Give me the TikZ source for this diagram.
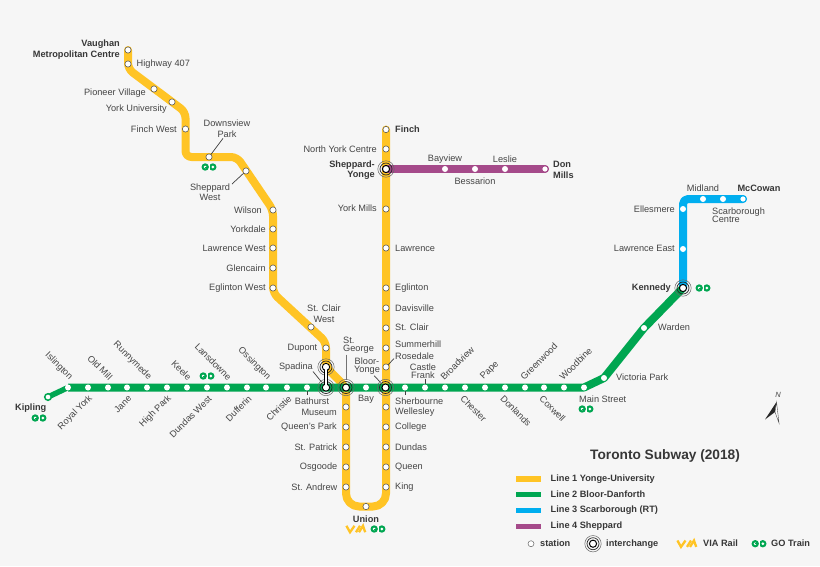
\documentclass[tikz,border=0pt]{standalone}
\usepackage{fontspec}
\setmainfont{Liberation Sans}
\usetikzlibrary{backgrounds}
\definecolor{ttcyellow}{HTML}{FFC425}
\definecolor{ttcgreen}{HTML}{00A651}
\definecolor{ttcblue}{HTML}{00AEEF}
\definecolor{ttcpurple}{HTML}{A54A8A}
\definecolor{ttctext}{HTML}{454545}
\definecolor{ttcpaper}{HTML}{F6F6F6}
\tikzset{
  lbl/.style={inner sep=0pt, text=ttctext, font=\fontsize{9.2}{10.5}\selectfont},
  lblb/.style={lbl, text=ttctext!80!black, font=\fontsize{9.2}{10.5}\selectfont\bfseries},
  tight/.style={font=\fontsize{9.2}{8.4}\selectfont},
  stny/.style={circle, draw=black!70, line width=0.5pt, fill=white, minimum size=6.2pt, inner sep=0pt},
  stnw/.style={circle, fill=white, minimum size=6pt, inner sep=0pt},
  subway/.style={line width=8pt, line cap=round, line join=round},
  leader/.style={line width=0.7pt, black!75},
  swatch/.style={minimum width=25pt, minimum height=5.6pt, inner sep=0pt},
}
\def\interchange(#1){
  \draw[black!60, line width=0.5pt] (#1) circle (8.2pt);
  \draw[black!85, line width=0.7pt] (#1) circle (6pt);
  \draw[black, fill=white, line width=1pt] (#1) circle (3.6pt);
}
\def\gologo(#1){
  \begin{scope}[shift={(#1)}]
    \fill[ttcgreen] (-3.8,0) circle (3.7pt);
    \fill[ttcgreen] (3.8,0) circle (3.7pt);
    \fill[white] (-3.8,0) circle (1.5pt);
    \fill[white] (3.8,0) circle (1.5pt);
    \fill[ttcgreen] (-3.8,-0.5) rectangle (-1,0.5);
    \fill[white] (-0.3,-3.8) rectangle (0.3,3.8);
  \end{scope}
}
\def\vialogo(#1){
  \begin{scope}[shift={(#1)}]
    \draw[ttcyellow, line width=2.3pt, line join=miter]
      (-9.6,-3.2) -- (-6,3.2) -- (-1.5,-3.2);
    \draw[ttcyellow, line width=2.3pt] (0,3.2) -- (4,-3.2);
    \draw[ttcyellow, line width=2.3pt, line join=miter]
      (3,3.2) -- (7,-3.2) -- (9.2,3.2);
  \end{scope}
}

\begin{document}
\begin{tikzpicture}[x=1pt, y=-1pt]
  \useasboundingbox (0,0) rectangle (820,566);

  %%%%% STATIONS %%%%%
  \foreach \n/\x/\y in {vaughan/128/50, hwy/128/64, pioneer/154/89, yorku/172/102, finchw/185.5/129,
      downsview/209/157, sheppw/246/171, wilson/273/210, yorkdale/273/229, lawrencew/273/248,
      glencairn/273/268, eglintonw/273/288, stclairw/311/327, dupont/326/348,
      museum/346/407, queenspark/346/427, stpatrick/346/447, osgoode/346/467, standrew/346/487,
      union/366/506.5, king/386/487, queen/386/467, dundas/386/447, college/386/427, wellesley/386/407,
      rosedale/386/367, summerhill/386/348, stclair/386/328, davisville/386/308, eglinton/386/288,
      lawrence/386/248, yorkmills/386/209, northyork/386/149, finch/386/129.5}
    \node[stny] (\n) at (\x,\y) {};
  \foreach \n/\x in {royalyork/88, oldmill/108, jane/127, runnymede/147, highpark/167, keele/187,
      dundasw/207, lansdowne/227, dufferin/247, ossington/266, christie/287, bathurst/307, bay/366,
      sherbourne/405, castle/425, broadview/445, chester/465, pape/485, donlands/505,
      greenwood/525, coxwell/544, woodbine/564, mainst/584}
    \node[stnw] (\n) at (\x,387.5) {};
  \foreach \n/\x/\y in {islington/68/387.5, vicpark/604/378, warden/644/328, kipling/48/397,
      ellesmere/683/209, lawrencee/683/249, midland/703/199, scarb/723/199, mccowan/743/199,
      bayview/445/169, bessarion/475/169, leslie/505/169, donmills/545/169}
    \node[stnw] (\n) at (\x,\y) {};
  \foreach \n/\x/\y in {spadinat/326/367, spadinab/326/387.5, stgeorge/346/387.5, bloor/385.5/387.5,
      sheppard/386/169, kennedy/683/288}
    \coordinate (\n) at (\x,\y);
  \coordinate (b1) at (128,69);
  \coordinate (b2) at (185.5,112);
  \coordinate (b3) at (185.5,157);
  \coordinate (b4) at (237,157);
  \coordinate (b5) at (273,210);
  \coordinate (b6) at (273,293);
  \coordinate (b7) at (326,342);
  \coordinate (b8) at (346,506.5);
  \coordinate (b9) at (386,506.5);
  \coordinate (b10) at (683,199);

  %%%%% LINES %%%%%
  \begin{scope}[on background layer]
    \fill[ttcpaper] (0,0) rectangle (820,566);
    \draw[subway, ttcyellow, rounded corners=6pt] (vaughan.center) -- (b1) -- (b2) -- (b3) -- (b4) -- (b5)
      -- (b6) -- (b7) -- (spadinat) -- (stgeorge) -- (museum.center);
    \draw[subway, ttcyellow, rounded corners=13pt] (museum.center) -- (b8) -- (b9) -- (finch.center);
    \draw[subway, ttcpurple] (sheppard) -- (donmills.center);
    \draw[subway, ttcblue, rounded corners=5pt] (kennedy) -- (b10) -- (mccowan.center);
    \draw[ttcgreen, line width=5.5pt, line cap=round] (kipling.center) -- (islington.center);
    \draw[ttcgreen, line width=8pt, line join=round] (islington.center) -- (mainst.center)
      -- (vicpark.center) -- (warden.center) -- (kennedy);
  \end{scope}
  \draw[ttcgreen, line width=1.5pt] (kipling) circle (3.3pt);
  \draw[ttcblue, line width=1pt] (mccowan) circle (3.3pt);
  \draw[ttcpurple, line width=1pt] (donmills) circle (3.3pt);

  %%%%% LINE 1 LABELS %%%%%
  \node[lblb, align=right, anchor=east] (vaughanl) at (120,49.5) {Vaughan\\Metropolitan Centre};
  \node[lbl, anchor=west] (hwyl) at (136.5,64) {Highway 407};
  \node[lbl, anchor=east] (pioneerl) at (146,93.5) {Pioneer Village};
  \node[lbl, anchor=east] (yorkul) at (167,109.5) {York University};
  \node[lbl, anchor=east] (finchwl) at (177,129) {Finch West};
  \node[lbl, align=center] (downsviewl) at (227,128.5) {Downsview\\Park};
  \draw[leader] (downsviewl.south) ++(-4,1) -- (downsview);
  \node[lbl, align=center] (sheppwl) at (210,192) {Sheppard\\West};
  \draw[leader] (232,184) -- (sheppw);
  \node[lbl, anchor=east] (wilsonl) at (262,210) {Wilson};
  \node[lbl, anchor=east] (yorkdalel) at (266,229) {Yorkdale};
  \node[lbl, anchor=east] (lawrencewl) at (266,248) {Lawrence West};
  \node[lbl, anchor=east] (glencairnl) at (266,268) {Glencairn};
  \node[lbl, anchor=east] (eglintonwl) at (266,288) {Eglinton West};
  \node[lbl, align=center] (stclairwl) at (324,313.5) {St. Clair\\West};
  \node[lbl, anchor=east] (dupontl) at (317.5,348) {Dupont};
  \node[lbl, anchor=east] (spadinal) at (313,367) {Spadina};
  \node[lbl, tight, align=left, anchor=west] (stgeorgel) at (343,345) {St.\\George};
  \node[lbl, tight, align=center] (bloorl) at (367,366) {Bloor-\\Yonge};
  \node[lbl, anchor=west] (rosedalel) at (395,356) {Rosedale};
  \node[lbl, anchor=west] (summerhilll) at (395,344.5) {Summerhill};
  \node[lbl, anchor=west] (stclairl) at (395,327.5) {St. Clair};
  \node[lbl, anchor=west] (davisvillel) at (395,308) {Davisville};
  \node[lbl, anchor=west] (eglintonl) at (395,288) {Eglinton};
  \node[lbl, anchor=west] (lawrencel) at (395,248) {Lawrence};
  \node[lbl, anchor=east] (yorkmillsl) at (377,208.5) {York Mills};
  \node[lbl, anchor=east] (northyorkl) at (377,149) {North York Centre};
  \node[lblb, anchor=west] (finchl) at (395,129.5) {Finch};
  \node[lblb, align=right, anchor=east] (sheppardl) at (375,170) {Sheppard-\\Yonge};
  \node[lbl, anchor=east] (museuml) at (337,412) {Museum};
  \node[lbl, anchor=east] (queensparkl) at (337,427) {Queen's Park};
  \node[lbl, anchor=east] (stpatrickl) at (337.5,447) {St. Patrick};
  \node[lbl, anchor=east] (osgoodel) at (337.5,467) {Osgoode};
  \node[lbl, anchor=east] (standrewl) at (337.5,487) {St. Andrew};
  \node[lbl, anchor=west] (wellesleyl) at (395,412) {Wellesley};
  \node[lbl, anchor=west] (collegel) at (395,427) {College};
  \node[lbl, anchor=west] (dundasl) at (395,447) {Dundas};
  \node[lbl, anchor=west] (queenl) at (395,467) {Queen};
  \node[lbl, anchor=west] (kingl) at (395,487) {King};
  \node[lblb] (unionl) at (366,519) {Union};
  \vialogo(356,529)
  \gologo(378,529)
  \gologo(209,167)

  %%%%% LINE 2 LABELS %%%%%
  \foreach \n/\t in {islington/Islington, oldmill/Old Mill, runnymede/Runnymede, keele/Keele,
      lansdowne/Lansdowne, ossington/Ossington}
    \node[lbl, rotate=-45, anchor=east] (\n l) at ([shift={(3,-9)}]\n.center) {\t};
  \foreach \n/\t in {royalyork/Royal York, jane/Jane, highpark/High Park, dundasw/Dundas West,
      dufferin/Dufferin, christie/Christie}
    \node[lbl, rotate=45, anchor=east] (\n l) at ([shift={(3,9.5)}]\n.center) {\t};
  \foreach \n/\t in {broadview/Broadview, pape/Pape, greenwood/Greenwood, woodbine/Woodbine}
    \node[lbl, rotate=45, anchor=west] (\n l) at ([shift={(-3,-9)}]\n.center) {\t};
  \foreach \n/\t in {chester/Chester, donlands/Donlands, coxwell/Coxwell}
    \node[lbl, rotate=-45, anchor=west] (\n l) at ([shift={(-3,9.5)}]\n.center) {\t};
  \node[lblb, anchor=east] (kiplingl) at (46.5,408) {Kipling};
  \gologo(39,418)
  \gologo(207,376)
  \node[lbl] (bathurstl) at (312,401) {Bathurst};
  \draw[leader] (bathurst) -- ++(0,7.5);
  \node[lbl] (bayl) at (366,399.5) {Bay};
  \node[lbl, anchor=west] (sherbournel) at (395,401) {Sherbourne};
  \draw[leader] (sherbourne) -- ++(0,7.5);
  \node[lbl, tight, align=center] (castlel) at (423,371) {Castle\\Frank};
  \draw[leader] (castle) -- ++(0,-8.5);
  \node[lbl, anchor=west] (mainstl) at (579,399) {Main Street};
  \gologo(586,409)
  \node[lbl, anchor=west] (vicparkl) at (616,377) {Victoria Park};
  \node[lbl, anchor=west] (wardenl) at (658,327.5) {Warden};

  %%%%% LINE 3 + 4 LABELS %%%%%
  \node[lblb, anchor=east] (kennedyl) at (671,288) {Kennedy};
  \gologo(703,288)
  \node[lbl, anchor=east] (lawrenceel) at (675,248.5) {Lawrence East};
  \node[lbl, anchor=east] (ellesmerel) at (675,209) {Ellesmere};
  \node[lbl] (midlandl) at (703,188) {Midland};
  \node[lblb] (mccowanl) at (759,188) {McCowan};
  \node[lbl, tight, align=left, anchor=west] (scarbl) at (712,215) {Scarborough\\Centre};
  \node[lbl] (bayviewl) at (445,159) {Bayview};
  \node[lbl] (lesliel) at (505,159) {Leslie};
  \node[lbl] (bessarionl) at (475,181) {Bessarion};
  \node[lblb, align=left, anchor=west] (donmillsl) at (553,170) {Don\\Mills};

  %%%%% INTERCHANGES %%%%%
  \draw[leader, shorten >=7pt] (spadinal.south east) -- (spadinab);
  \draw[black!55, line width=1pt] (stgeorgel.south west) ++(3,1) -- ++(0,25);
  \draw[leader, shorten >=7pt] (bloorl.south east) ++(-6,1) -- (bloor);
  \draw[leader] (rosedalel.south west) ++(-1,-1) -- (rosedale);
  \interchange(spadinat)
  \interchange(spadinab)
  \draw[black, line width=4.6pt] (spadinat) -- (spadinab);
  \fill[white] (spadinat) circle (2.8pt);
  \fill[white] (spadinab) circle (2.8pt);
  \draw[white, line width=2.6pt] (spadinat) -- (spadinab);
  \interchange(stgeorge)
  \interchange(bloor)
  \interchange(sheppard)
  \interchange(kennedy)

  %%%%% LEGEND %%%%%
  \node[lblb, anchor=west, font=\fontsize{13.7}{15}\selectfont\bfseries] (titlel) at (590,455.5) {Toronto Subway (2018)};
  \foreach \c/\y/\t [count=\i] in {ttcyellow/478.7/Line 1 Yonge-University, ttcgreen/494.6/Line 2 Bloor-Danforth,
      ttcblue/510.5/Line 3 Scarborough (RT), ttcpurple/526.4/Line 4 Sheppard} {
    \node[swatch, fill=\c] (swatch\i) at (528.5,\y) {};
    \node[lblb, anchor=west] (legend\i) at (550.5,\y) {\t};
  }
  \node[stny, draw=black!60, minimum size=6pt] (keystn) at (531,543.7) {};
  \node[lblb, anchor=west] (keystnl) at (540,543.7) {station};
  \coordinate (keyint) at (593,543.7);
  \interchange(keyint)
  \node[lblb, anchor=west] (keyintl) at (606,543.7) {interchange};
  \vialogo(687,543.7)
  \node[lblb, anchor=west] (keyvial) at (703,543.7) {VIA Rail};
  \gologo(759,543.7)
  \node[lblb, anchor=west] (keygol) at (771,543.7) {GO Train};

  %%%%% NORTH %%%%%
  \fill[black!85] (776.5,402) -- (765,419.5) -- (775,412) -- cycle;
  \draw[black!70, fill=white, line width=0.4pt] (776.5,402) -- (775,412) -- (779,423) -- cycle;
  \node[lbl, font=\fontsize{7.5}{9}\selectfont\itshape] (northl) at (778,394.5) {N};
\end{tikzpicture}
\end{document}
